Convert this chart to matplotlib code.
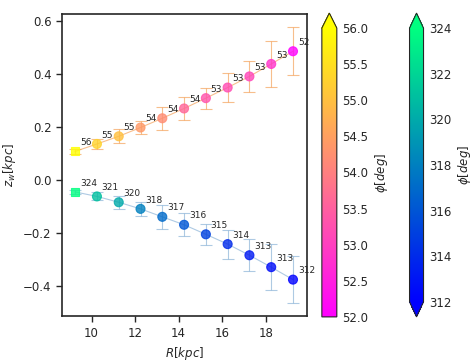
import matplotlib
matplotlib.use("Agg")
import matplotlib.pyplot as plt
import numpy as np
from matplotlib import cm, colors

# radial bins
r_kpc = [9.25, 10.25, 11.25, 12.25, 13.25, 14.25, 15.25, 16.25, 17.25, 18.25, 19.25]

# upper branch
zw_up = [0.107, 0.135, 0.164, 0.197, 0.232, 0.269, 0.308, 0.348, 0.390, 0.437, 0.485]
err_up = [0.010, 0.018, 0.026, 0.026, 0.043, 0.043, 0.040, 0.055, 0.060, 0.087, 0.090]
phi_up = [56.0, 55.3, 55.0, 54.4, 54.2, 53.6, 53.3, 53.2, 53.1, 52.8, 52.0]

# lower branch
zw_lo = [-0.046, -0.063, -0.085, -0.110, -0.140, -0.170, -0.206, -0.243, -0.285, -0.330, -0.377]
err_lo = [0.006, 0.015, 0.025, 0.025, 0.045, 0.043, 0.040, 0.055, 0.060, 0.088, 0.090]
phi_lo = [324.0, 321.0, 320.0, 318.0, 317.0, 316.0, 315.0, 314.0, 313.2, 312.6, 312.0]

text_c = "#262626"
plt.rcParams.update({
    "font.family": "DejaVu Sans",
    "text.color": text_c,
    "axes.labelcolor": text_c,
    "xtick.color": text_c,
    "ytick.color": text_c,
    "axes.edgecolor": text_c,
})

fig = plt.figure(figsize=(4.74, 3.63), dpi=100)
ax = fig.add_axes([0.131, 0.129, 0.517, 0.832])

norm_up = colors.Normalize(52, 56)
norm_lo = colors.Normalize(312, 324)
cmap_up = plt.get_cmap("spring")
cmap_lo = plt.get_cmap("winter")


def draw_branch(zw, err, phi, cmap, norm, ecol):
    ax.errorbar(r_kpc, zw, yerr=err, color=ecol, lw=0.8, capsize=4,
                elinewidth=0.8, capthick=0.8, alpha=0.7, zorder=1)
    c = cmap(norm(np.array(phi)))
    ax.scatter(r_kpc[:1], zw[:1], c=c[:1], marker="s", s=28, alpha=0.8,
               edgecolors=c[:1], linewidths=0.8, zorder=3)
    ax.scatter(r_kpc[1:], zw[1:], c=c[1:], marker="o", s=42, alpha=0.8,
               edgecolors=c[1:], linewidths=0.8, zorder=3)
    for x, y, p in zip(r_kpc, zw, phi):
        ax.text(x + 0.22, y + 0.024, f"{round(p):d}", fontsize=6.5, zorder=4)


draw_branch(zw_up, err_up, phi_up, cmap_up, norm_up, "#f5a35c")
draw_branch(zw_lo, err_lo, phi_lo, cmap_lo, norm_lo, "#8cb4d8")

ax.set_xlim(8.65, 19.9)
ax.set_ylim(-0.515, 0.625)
ax.set_xticks([10, 12, 14, 16, 18])
ax.set_yticks([-0.4, -0.2, 0.0, 0.2, 0.4, 0.6])
ax.tick_params(labelsize=8.5, length=4, width=1)
ax.set_xlabel(r"$R[kpc]$", fontsize=8.5)
ax.set_ylabel(r"$z_w[kpc]$", fontsize=8.5)
for s in ax.spines.values():
    s.set_linewidth(1.2)

cax1 = fig.add_axes([0.679, 0.127, 0.0316, 0.837])
cb1 = fig.colorbar(cm.ScalarMappable(norm=norm_up, cmap=cmap_up), cax=cax1, extend="max",
                   extendfrac=0.052)
cb1.set_ticks([52.0, 52.5, 53.0, 53.5, 54.0, 54.5, 55.0, 55.5, 56.0])
cb1.ax.tick_params(labelsize=8.5, length=0, pad=4)
cb1.set_label(r"$\phi[deg]$", fontsize=8.5, labelpad=3)

cax2 = fig.add_axes([0.864, 0.127, 0.0295, 0.837])
cb2 = fig.colorbar(cm.ScalarMappable(norm=norm_lo, cmap=cmap_lo), cax=cax2, extend="both",
                   extendfrac=0.055)
cb2.set_ticks([312, 314, 316, 318, 320, 322, 324])
cb2.ax.tick_params(labelsize=8.5, length=0, pad=4)
cb2.set_label(r"$\phi[deg]$", fontsize=8.5, labelpad=3)

fig.savefig("out.png", dpi=100)
